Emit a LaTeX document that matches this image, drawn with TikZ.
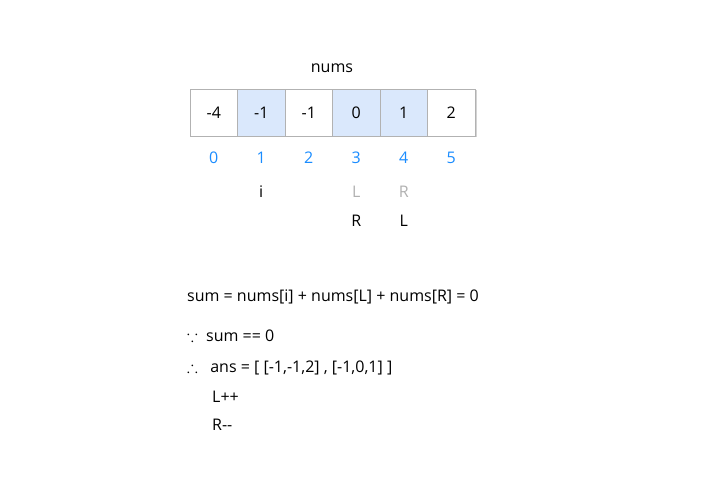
\documentclass[tikz,border=0pt]{standalone}
\usepackage{amsfonts, amssymb}
\usepackage{fontspec}
\setmainfont{Open Sans}
\usepackage{tikz}
\usetikzlibrary{shadows}

\definecolor{cellblue}{HTML}{DAE8FC}
\definecolor{idxblue}{HTML}{1A8CFF}
\definecolor{oldgray}{HTML}{B0B0B0}

\begin{document}
\begin{tikzpicture}[
        x=1pt, y=-1pt,
        font=\fontsize{16}{18}\selectfont,
        cell/.style={draw=gray!60, fill=white, minimum width=47.5pt, minimum height=47pt, inner sep=0pt,
            drop shadow={shadow xshift=1.5pt, shadow yshift=-1.5pt, opacity=0.35}},
        idx/.style={text=idxblue}
        ]
    % Define styles
    \tikzstyle{hit} = [cell, fill=cellblue]
    \tikzstyle{line} = [anchor=west, inner sep=0pt]

    \useasboundingbox (0, 0) rectangle (716, 487);

    % Define array title
    \node (title) at (332, 68) {nums};

    % Define array cells
    \node[cell] (c0) at (213.75, 112.5) {-4};
    \node[hit]  (c1) at (261.25, 112.5) {-1};
    \node[cell] (c2) at (308.75, 112.5) {-1};
    \node[hit]  (c3) at (356.25, 112.5) {0};
    \node[hit]  (c4) at (403.75, 112.5) {1};
    \node[cell] (c5) at (451.25, 112.5) {2};

    % Define index nodes
    \node[idx] (i0) at (213.75, 158) {0};
    \node[idx] (i1) at (261.25, 158) {1};
    \node[idx] (i2) at (308.75, 158) {2};
    \node[idx] (i3) at (356.25, 158) {3};
    \node[idx] (i4) at (403.75, 158) {4};
    \node[idx] (i5) at (451.25, 158) {5};

    % Define pointer nodes
    \node (pi) at (261.25, 192) {i};
    \node[text=oldgray] (oldL) at (356.25, 192) {L};
    \node[text=oldgray] (oldR) at (403.75, 192) {R};
    \node (newR) at (356.25, 221) {R};
    \node (newL) at (403.75, 221) {L};

    % Define explanation lines
    \node[line] (sum) at (187, 297) {sum = nums[i] + nums[L] + nums[R] = 0};
    \node[line] (since) at (187, 336) {$\because$\ \ sum == 0};
    \node[line] (ans) at (187, 368) {$\therefore$\ \ \ ans = [ [-1,-1,2] , [-1,0,1] ]};
    \node[line] (incL) at (212, 397) {L++};
    \node[line] (decR) at (212, 425) {R-{}-};

\end{tikzpicture}
\end{document}
